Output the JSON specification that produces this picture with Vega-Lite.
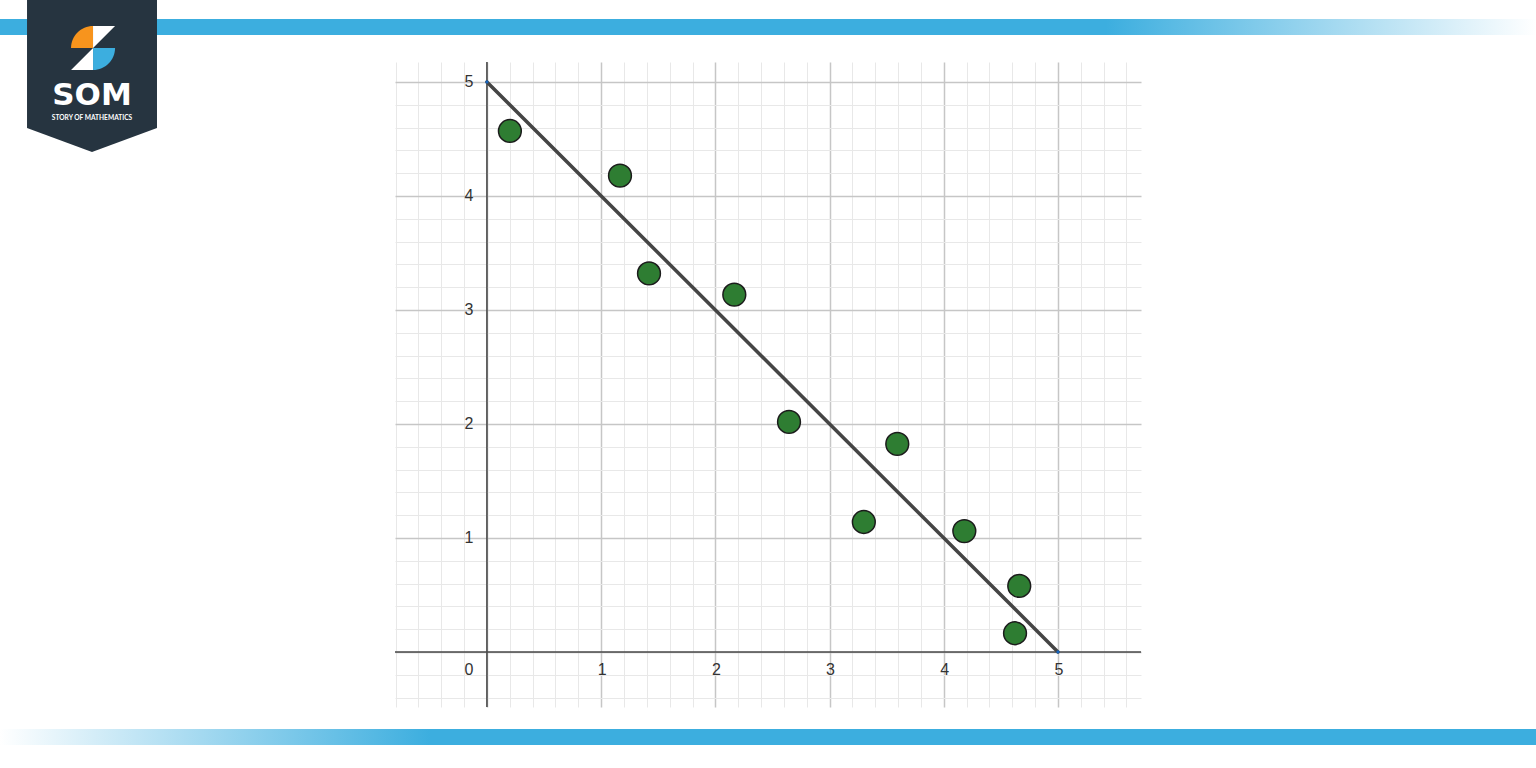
{
  "$schema": "https://vega.github.io/schema/vega-lite/v6.json",
  "width": 746,
  "height": 645,
  "autosize": {"type": "none"},
  "padding": {"left": 395, "top": 62, "right": 395, "bottom": 61},
  "background": "white",
  "config": {"view": {"stroke": null}},
  "datasets": {
    "points": [
      {"x": 0.201, "y": 4.57},
      {"x": 1.165, "y": 4.178},
      {"x": 1.419, "y": 3.32},
      {"x": 2.166, "y": 3.134},
      {"x": 2.645, "y": 2.018},
      {"x": 3.593, "y": 1.825},
      {"x": 3.30, "y": 1.14},
      {"x": 4.18, "y": 1.06},
      {"x": 4.661, "y": 0.579},
      {"x": 4.624, "y": 0.164}
    ],
    "fit": [{"x": 0, "y": 5}, {"x": 5, "y": 0}],
    "ticks": [{"v": 1}, {"v": 2}, {"v": 3}, {"v": 4}, {"v": 5}],
    "zero": [{"v": 0}],
    "topbar": [{"x": -4.264, "x2": 9.186, "y": 5.552, "y2": 5.412}],
    "bottombar": [{"x": -4.264, "x2": 9.186, "y": -0.676, "y2": -0.816}],
    "badge": [
      {"x": -4.027, "y": 4.596, "y2": 5.719},
      {"x": -3.458, "y": 4.386, "y2": 5.719},
      {"x": -2.889, "y": 4.596, "y2": 5.719}
    ],
    "icon": [{"x": -3.449, "y": 5.298}],
    "brand": [{"x": -3.458, "y": 4.877, "t": "SOM"}],
    "brandsub": [{"x": -3.458, "y": 4.68, "t": "STORY OF MATHEMATICS"}]
  },
  "layer": [
    {
      "data": {"name": "points"},
      "mark": {"type": "point", "opacity": 0},
      "encoding": {
        "x": {
          "field": "x", "type": "quantitative",
          "scale": {"domain": [-0.805, 5.727], "nice": false, "zero": false},
          "axis": {
            "title": null, "labels": false, "ticks": false, "domain": false,
            "grid": true, "tickCount": 200,
            "values": [-0.8, -0.6, -0.4, -0.2, 0, 0.2, 0.4, 0.6, 0.8, 1, 1.2, 1.4, 1.6, 1.8, 2, 2.2, 2.4, 2.6, 2.8, 3, 3.2, 3.4, 3.6, 3.8, 4, 4.2, 4.4, 4.6, 4.8, 5, 5.2, 5.4, 5.6],
            "gridColor": {"condition": {"test": "abs(datum.value - round(datum.value)) < 0.001", "value": "#c6c6c6"}, "value": "#e8e8e8"},
            "gridWidth": {"condition": {"test": "abs(datum.value - round(datum.value)) < 0.001", "value": 1.5}, "value": 1}
          }
        },
        "y": {
          "field": "y", "type": "quantitative",
          "scale": {"domain": [-0.483, 5.175], "nice": false, "zero": false},
          "axis": {
            "title": null, "labels": false, "ticks": false, "domain": false,
            "grid": true, "tickCount": 200,
            "values": [-0.4, -0.2, 0, 0.2, 0.4, 0.6, 0.8, 1, 1.2, 1.4, 1.6, 1.8, 2, 2.2, 2.4, 2.6, 2.8, 3, 3.2, 3.4, 3.6, 3.8, 4, 4.2, 4.4, 4.6, 4.8, 5],
            "gridColor": {"condition": {"test": "abs(datum.value - round(datum.value)) < 0.001", "value": "#c6c6c6"}, "value": "#e8e8e8"},
            "gridWidth": {"condition": {"test": "abs(datum.value - round(datum.value)) < 0.001", "value": 1.5}, "value": 1}
          }
        }
      }
    },
    {
      "data": {"name": "topbar"},
      "mark": {"type": "rect", "clip": false, "color": {"gradient": "linear", "x1": 0, "y1": 0, "x2": 1, "y2": 0, "stops": [{"offset": 0, "color": "#3caedf"}, {"offset": 0.72, "color": "#3caedf"}, {"offset": 1, "color": "#ffffff"}]}},
      "encoding": {
        "x": {"field": "x", "type": "quantitative"},
        "x2": {"field": "x2"},
        "y": {"field": "y", "type": "quantitative"},
        "y2": {"field": "y2"}
      }
    },
    {
      "data": {"name": "bottombar"},
      "mark": {"type": "rect", "clip": false, "color": {"gradient": "linear", "x1": 0, "y1": 0, "x2": 1, "y2": 0, "stops": [{"offset": 0, "color": "#ffffff"}, {"offset": 0.28, "color": "#3caedf"}, {"offset": 1, "color": "#3caedf"}]}},
      "encoding": {
        "x": {"field": "x", "type": "quantitative"},
        "x2": {"field": "x2"},
        "y": {"field": "y", "type": "quantitative"},
        "y2": {"field": "y2"}
      }
    },
    {
      "data": {"name": "badge"},
      "mark": {"type": "area", "clip": false, "color": "#263440", "opacity": 1, "line": false},
      "encoding": {
        "x": {"field": "x", "type": "quantitative"},
        "y": {"field": "y", "type": "quantitative"},
        "y2": {"field": "y2"}
      }
    },
    {
      "data": {"name": "icon"},
      "mark": {"type": "point", "clip": false, "filled": true, "opacity": 1, "color": "#f7941d", "strokeWidth": 0, "size": 1936, "shape": "M 0 0 L -1 0 A 1 1 0 0 1 0 -1 Z"},
      "encoding": {"x": {"field": "x", "type": "quantitative"}, "y": {"field": "y", "type": "quantitative"}}
    },
    {
      "data": {"name": "icon"},
      "mark": {"type": "point", "clip": false, "filled": true, "opacity": 1, "color": "#3caedf", "strokeWidth": 0, "size": 1936, "shape": "M 0 0 L 1 0 A 1 1 0 0 1 0 1 Z"},
      "encoding": {"x": {"field": "x", "type": "quantitative"}, "y": {"field": "y", "type": "quantitative"}}
    },
    {
      "data": {"name": "icon"},
      "mark": {"type": "point", "clip": false, "filled": true, "opacity": 1, "color": "#ffffff", "strokeWidth": 0, "size": 1936, "shape": "M 0 -1 L 1 -1 L 0 0 Z M -1 1 L 0 1 L 0 0 Z"},
      "encoding": {"x": {"field": "x", "type": "quantitative"}, "y": {"field": "y", "type": "quantitative"}}
    },
    {
      "data": {"name": "brand"},
      "mark": {"type": "text", "clip": false, "color": "#ffffff", "font": "DejaVu Sans", "fontWeight": "bold", "fontSize": 31, "align": "center", "baseline": "middle"},
      "encoding": {"x": {"field": "x", "type": "quantitative"}, "y": {"field": "y", "type": "quantitative"}, "text": {"field": "t"}}
    },
    {
      "data": {"name": "brandsub"},
      "mark": {"type": "text", "clip": false, "color": "#ffffff", "font": "Lato", "fontWeight": "bold", "fontSize": 6.6, "align": "center", "baseline": "middle"},
      "encoding": {"x": {"field": "x", "type": "quantitative"}, "y": {"field": "y", "type": "quantitative"}, "text": {"field": "t"}}
    },
    {
      "data": {"name": "zero"},
      "mark": {"type": "rule", "color": "#4a4a4a", "strokeWidth": 1.6},
      "encoding": {"x": {"field": "v", "type": "quantitative"}}
    },
    {
      "data": {"name": "zero"},
      "mark": {"type": "rule", "color": "#4a4a4a", "strokeWidth": 1.6},
      "encoding": {"y": {"field": "v", "type": "quantitative"}}
    },
    {
      "data": {"name": "ticks"},
      "mark": {"type": "text", "color": "#333333", "font": "Liberation Sans", "fontSize": 16, "align": "center", "baseline": "middle", "dy": 18, "dx": 1},
      "encoding": {"x": {"field": "v", "type": "quantitative"}, "y": {"datum": 0, "type": "quantitative"}, "text": {"field": "v"}}
    },
    {
      "data": {"name": "ticks"},
      "mark": {"type": "text", "color": "#333333", "font": "Liberation Sans", "fontSize": 16, "align": "center", "baseline": "middle", "dx": -18},
      "encoding": {"y": {"field": "v", "type": "quantitative"}, "x": {"datum": 0, "type": "quantitative"}, "text": {"field": "v"}}
    },
    {
      "data": {"name": "zero"},
      "mark": {"type": "text", "color": "#333333", "font": "Liberation Sans", "fontSize": 16, "align": "center", "baseline": "middle", "dx": -18, "dy": 18},
      "encoding": {"x": {"field": "v", "type": "quantitative"}, "y": {"field": "v", "type": "quantitative"}, "text": {"field": "v"}}
    },
    {
      "data": {"name": "fit"},
      "mark": {"type": "line", "color": "#454545", "strokeWidth": 3.5, "strokeCap": "round"},
      "encoding": {"x": {"field": "x", "type": "quantitative"}, "y": {"field": "y", "type": "quantitative"}}
    },
    {
      "data": {"name": "fit"},
      "mark": {"type": "point", "filled": true, "color": "#1565c0", "size": 10, "opacity": 1},
      "encoding": {"x": {"field": "x", "type": "quantitative"}, "y": {"field": "y", "type": "quantitative"}}
    },
    {
      "data": {"name": "points"},
      "mark": {"type": "point", "shape": "circle", "filled": true, "fill": "#2e7d32", "stroke": "#1c1c1c", "strokeWidth": 1.5, "size": 520, "opacity": 1},
      "encoding": {"x": {"field": "x", "type": "quantitative"}, "y": {"field": "y", "type": "quantitative"}}
    }
  ]
}
